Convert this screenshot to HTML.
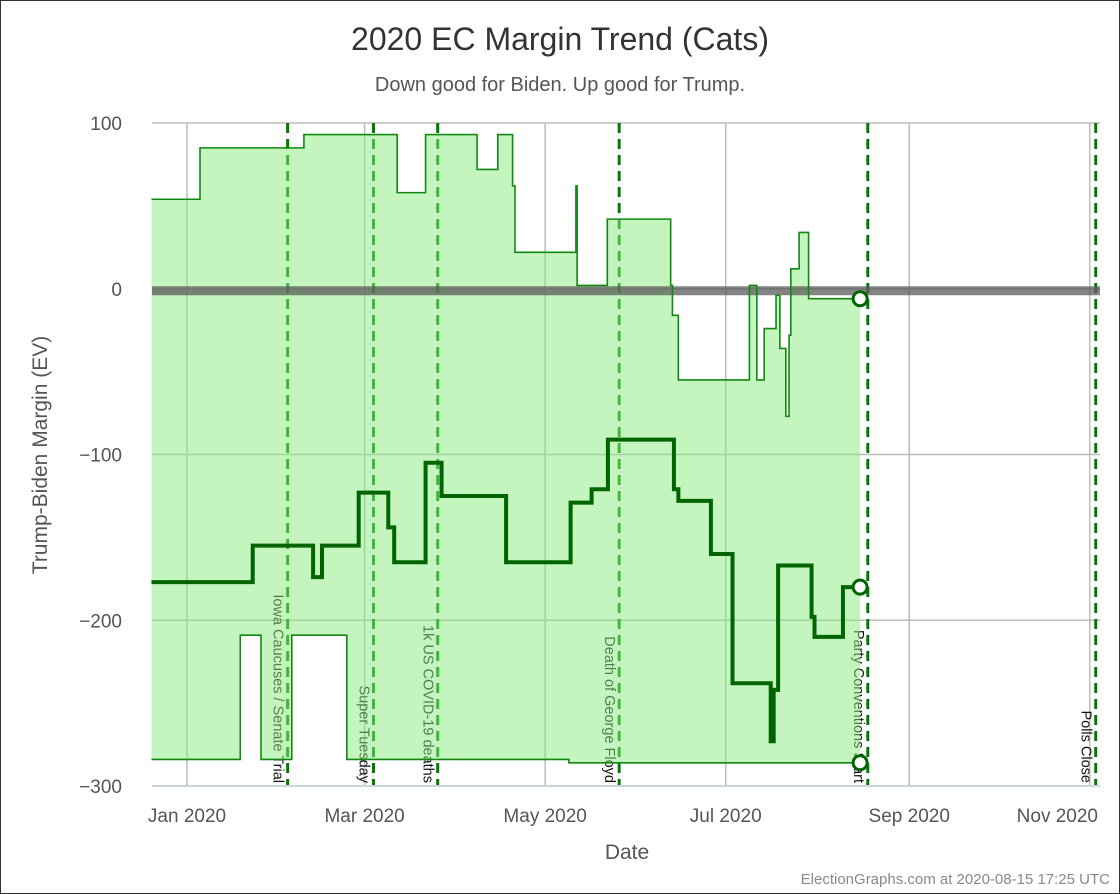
<!DOCTYPE html>
<html><head><meta charset="utf-8"><style>
body{margin:0;background:#fff;}
svg{display:block;font-family:"Liberation Sans",sans-serif;}
</style></head><body>
<svg id="chart" width="1120" height="894" viewBox="0 0 1120 894" xmlns="http://www.w3.org/2000/svg">
<rect x="0.5" y="0.5" width="1119" height="893" fill="#fff" stroke="#333"/>
<text x="560" y="50" text-anchor="middle" font-size="32" fill="#333">2020 EC Margin Trend (Cats)</text>
<text x="560" y="91" text-anchor="middle" font-size="20" fill="#555">Down good for Biden. Up good for Trump.</text>
<text transform="translate(47,455) rotate(-90)" text-anchor="middle" font-size="21" fill="#555">Trump-Biden Margin (EV)</text>
<text x="627" y="859" text-anchor="middle" font-size="21" fill="#555">Date</text>
<text x="1110" y="884" text-anchor="end" font-size="15" fill="#888">ElectionGraphs.com at 2020-08-15 17:25 UTC</text>
<g id="grid"></g><g id="events"></g><g id="fill"></g><g id="series"></g><g id="axes"></g>
</svg>
<script>
const yTicks=[100,0,-100,-200,-300];
const xTickLabels=["Jan 2020","Mar 2020","May 2020","Jul 2020","Sep 2020","Nov 2020"];
const xTickDays=[0,60,121,182,244,305];
const eventNames=["Iowa Caucuses / Senate Trial","Super Tuesday","1k US COVID-19 deaths","Death of George Floyd","Party Conventions Start","Polls Close"];
const eventDays=[34,63,84.7,146,230,307];
const topDays=[-12,4.4,39.5,71,80.6,98,105,110,110.8,131.4,131.8,142,163.4,164,166,190,192.5,195,199,200.3,202.3,203.4,204,206.8,210,218,227.4];
const topVals=[54,85,93,58,93,72,93,62,22,62,2,42,2,-16,-55,2,-55,-24,-4,-36,-77,-28,12,34,-6,-6,-6];
const midDays=[-12,22.2,42.6,45.6,58,68,70,80.6,86,107.8,129.6,136.7,142.2,164.5,166,177,184.3,197.2,198.2,199.7,211,212,212.4,221.6,227.4];
const midVals=[-177,-155,-174,-155,-123,-144,-165,-105,-125,-165,-129,-121,-91,-121,-128,-160,-238,-273,-242,-167,-198,-210,-210,-180,-180];
const lowDays=[-12,18,25,35.4,54,129,227.4];
const lowVals=[-284,-209,-284,-209,-284,-286,-286];
const endDay=227.4;

const NS="http://www.w3.org/2000/svg";
const L=152,R=1100,T=123,B=786;
const xOf=d=>187+2.96*d;
const yOf=v=>T+(100-v)*(B-T)/400;
function mk(tag,attrs,parent){const e=document.createElementNS(NS,tag);for(const k in attrs)e.setAttribute(k,attrs[k]);document.getElementById(parent).appendChild(e);return e;}
function stepPts(days,vals){const p=[];for(let i=0;i<days.length;i++){const x=xOf(days[i]);if(i>0)p.push([x,yOf(vals[i-1])]);p.push([x,yOf(vals[i])]);}return p;}

yTicks.forEach(v=>{
 if(v!==-300){const g=mk('line',{x1:L,x2:R,y1:yOf(v),y2:yOf(v),stroke:'#bbb','stroke-width':1.5},'grid');
 
 }
 const t=mk('text',{x:122,y:yOf(v)+7,'text-anchor':'end','font-size':19,fill:'#555'},'axes');t.textContent=v===0?'0':(v<0?'−'+(-v):String(v));
 
 
});
xTickDays.forEach((d,i)=>{
 const g=mk('line',{x1:xOf(d),x2:xOf(d),y1:T,y2:B,stroke:'#bbb','stroke-width':1.5},'grid');
 
 
 const last=i===xTickDays.length-1;
 const t=mk('text',{x:last?1098:xOf(d),y:822,'text-anchor':last?'end':'middle','font-size':19,fill:'#555'},'axes');t.textContent=xTickLabels[i];
 
 
});
const ax=mk('line',{x1:L,x2:R,y1:B,y2:B,stroke:'#ccd6dd','stroke-width':2},'axes');



eventDays.forEach((d,i)=>{
 const x=xOf(d);
 const l=mk('line',{x1:x,x2:x,y1:T,y2:B,stroke:'#007a00','stroke-width':3,'stroke-dasharray':'10,6'},'events');
 
 
 const t=mk('text',{transform:`translate(${x-14},${B-3}) rotate(90)`,'text-anchor':'end','font-size':14.5,fill:'#111'},'events');t.textContent=eventNames[i];
 
 
});

const tp=stepPts(topDays,topVals),lp=stepPts(lowDays,lowVals);
const area=tp.concat(lp.slice().reverse());
const f=mk('polygon',{points:area.map(p=>p.join(',')).join(' '),fill:'rgba(140,235,125,0.5)'},'fill');


const zb=mk('line',{x1:L,x2:R,y1:yOf(-1.2),y2:yOf(-1.2),stroke:'rgba(90,90,90,0.75)','stroke-width':9},'fill');



[[topDays,topVals,'#118811',1.6,'upper-bound-line'],[lowDays,lowVals,'#118811',1.6,'lower-bound-line'],[midDays,midVals,'#006400',4,'expected-margin-line']].forEach(s=>{
 const p=mk('polyline',{points:stepPts(s[0],s[1]).map(q=>q.join(',')).join(' '),fill:'none',stroke:s[2],'stroke-width':s[3]},'series');
 
 
 const c=mk('circle',{cx:xOf(endDay),cy:yOf(s[1][s[1].length-1]),r:7,fill:'#fff',stroke:'#006400','stroke-width':3},'series');
 
 
});
</script>
</body></html>
